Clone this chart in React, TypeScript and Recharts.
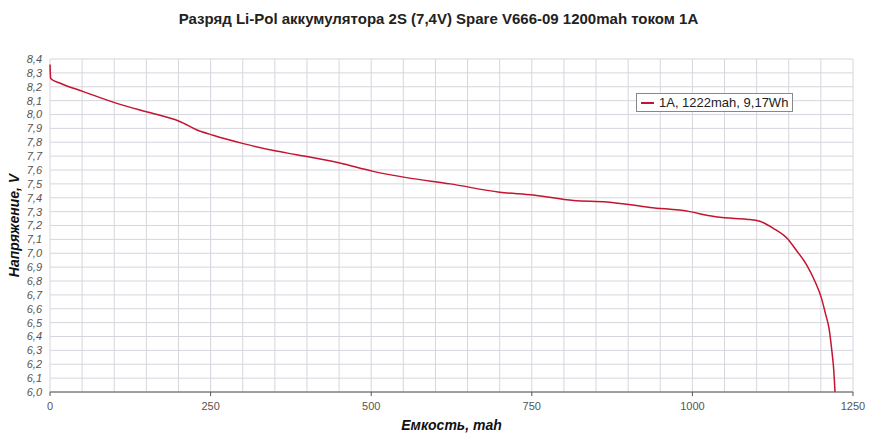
import React from "react";
import { LineChart, Line, XAxis, YAxis, CartesianGrid, Label } from "recharts";

// емкость, mah
const capacity = [
  0, 0.5, 1, 16, 52, 104, 150, 182, 202, 228, 254, 301, 348, 384, 451, 503, 555, 623, 700, 752,
  815, 867, 934, 996, 1027, 1050, 1084, 1105, 1126, 1147, 1162, 1178, 1191, 1201, 1207, 1213,
  1217, 1220, 1222,
];
// напряжение, V
const voltage = [
  8.36, 8.3, 8.26, 8.225, 8.165, 8.08, 8.02, 7.98, 7.95, 7.89, 7.85, 7.79, 7.74, 7.71, 7.65, 7.59,
  7.545, 7.5, 7.44, 7.42, 7.38, 7.37, 7.33, 7.3, 7.27, 7.255, 7.245, 7.23, 7.18, 7.11, 7.02, 6.915,
  6.795, 6.675, 6.567, 6.45, 6.3, 6.16, 6.0,
];
const xTicks = Array.from({ length: 26 }, (_, i) => i * 50);
const yTicks = Array.from({ length: 25 }, (_, i) => +(6 + i * 0.1).toFixed(1));

const data = capacity.map((c, i) => ({ mah: c, v: voltage[i] }));

const FONT = "'Liberation Sans', Arial, sans-serif";
const RED = "#c4142f";

function XTick(props: any) {
  const { x, y, payload } = props;
  if (payload.value % 250 !== 0) return null;
  return (
    <g>
      <line x1={x} x2={x} y1={y - 8} y2={y - 4} stroke="#555" />
      <text x={x} y={y + 10} textAnchor="middle" fontSize={11} fill="#555" fontFamily={FONT}>
        {payload.value}
      </text>
    </g>
  );
}

export default function App() {
  return (
    <div style={{ position: "fixed", left: 0, top: 0, width: 877, height: 444, background: "#fff" }}>
      <div
        style={{
          position: "absolute",
          top: 10,
          left: 0,
          width: 877,
          textAlign: "center",
          fontFamily: FONT,
          fontWeight: "bold",
          fontSize: 15,
          color: "#222",
        }}
      >
        Разряд Li-Pol аккумулятора 2S (7,4V) Spare V666-09 1200mah током 1A
      </div>
      <LineChart width={877} height={444} data={data} margin={{ top: 59, right: 24, bottom: 0, left: 0 }}>
        <CartesianGrid stroke="#d6d6de" strokeWidth={1} />
        <XAxis
          dataKey="mah"
          type="number"
          domain={[0, 1250]}
          ticks={xTicks}
          interval={0}
          tick={<XTick />}
          tickLine={false}
          axisLine={{ stroke: "#555" }}
          height={52}
        >
          <Label
            value="Емкость, mah"
            position="insideBottom"
            offset={14}
            style={{ fontFamily: FONT, fontWeight: "bold", fontStyle: "italic", fontSize: 14, fill: "#111" }}
          />
        </XAxis>
        <YAxis
          type="number"
          domain={[6, 8.4]}
          ticks={yTicks}
          interval={0}
          width={50}
          tickLine={false}
          axisLine={false}
          tickFormatter={(v: number) => v.toFixed(1).replace(".", ",")}
          tick={{ fontSize: 11, fill: "#555", fontStyle: "italic", fontFamily: FONT }}
          tickMargin={2}
        >
          <Label
            value="Напряжение, V"
            angle={-90}
            position="insideLeft"
            offset={14}
            style={{ textAnchor: "middle", fontFamily: FONT, fontWeight: "bold", fontStyle: "italic", fontSize: 14, fill: "#111" }}
          />
        </YAxis>
        <Line
          dataKey="v"
          stroke={RED}
          strokeWidth={1.5}
          dot={false}
          type="monotone"
          isAnimationActive={false}
        />
      </LineChart>
      <div
        style={{
          position: "absolute",
          left: 636,
          top: 93,
          border: "1px solid #888",
          background: "#fff",
          padding: "1px 4px",
          fontFamily: FONT,
          fontSize: 13,
          color: "#222",
          display: "flex",
          alignItems: "center",
          whiteSpace: "nowrap",
        }}
      >
        <span style={{ display: "inline-block", width: 13, height: 2, background: RED, marginRight: 5 }} />
        1A, 1222mah, 9,17Wh
      </div>
    </div>
  );
}
